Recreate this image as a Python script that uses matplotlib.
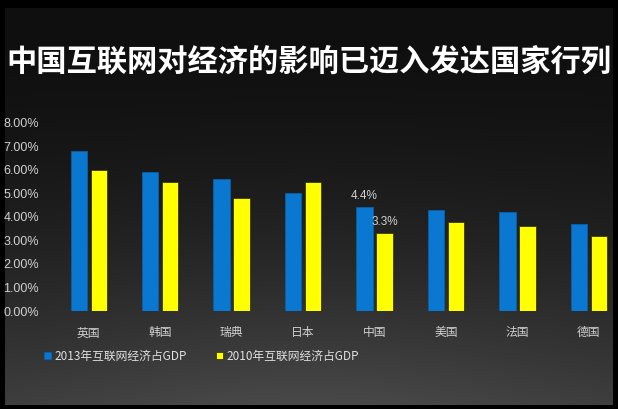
import matplotlib
matplotlib.use("Agg")
import matplotlib.pyplot as plt
import numpy as np

plt.rcParams['font.family'] = ['Noto Sans CJK SC', 'DejaVu Sans']

title = "中国互联网对经济的影响已迈入发达国家行列"
categories = ["英国", "韩国", "瑞典", "日本", "中国", "美国", "法国", "德国"]
series_2013 = [6.8, 5.9, 5.6, 5.0, 4.4, 4.3, 4.2, 3.7]
series_2010 = [6.0, 5.5, 4.8, 5.5, 3.3, 3.8, 3.6, 3.2]
label_2013 = "2013年互联网经济占GDP"
label_2010 = "2010年互联网经济占GDP"
yticks = [0, 1, 2, 3, 4, 5, 6, 7, 8]

W, H = 618, 409
fig = plt.figure(figsize=(W / 100, H / 100), dpi=100)
fig.patch.set_facecolor('black')

# background panel with gradient
bg = fig.add_axes([0, 0, 1, 1])
bg.set_xlim(0, W)
bg.set_ylim(H, 0)
bg.axis('off')
ny, nx = 200, 300
yy = np.linspace(0, 1, ny)[:, None]
xx = np.linspace(-1, 1, nx)[None, :]
val = 15 + 44 * yy ** 1.8 + 14 * np.exp(-((xx * 1.2) ** 2)) * yy ** 2
img = np.dstack([val, val, val]) / 255.0
bg.imshow(img, extent=(5, 613, 405, 8), aspect='auto', interpolation='bilinear', zorder=0)

# title
fig.text(309 / W, 1 - 62 / H, title, color='white', fontsize=21.8, fontweight='heavy',
         ha='center', va='center')

# main axes
left, right = 53, 612
bottom, top = 311, 122.7
ax = fig.add_axes([left / W, 1 - bottom / H, (right - left) / W, (bottom - top) / H])
ax.patch.set_alpha(0)
x = np.arange(len(categories))
w = 0.23
off = 0.14
ax.bar(x - off, series_2013, width=w, color='#0a78d0', edgecolor='#0860a8', linewidth=0.6,
       label=label_2013, zorder=3)
ax.bar(x + off, series_2010, width=w, color='#ffff00', edgecolor='#3a3a00', linewidth=0.6,
       label=label_2010, zorder=3)

ax.set_xlim(-0.5, (right - 89) / 71.4)
ax.set_ylim(0, 8)
ax.set_yticks(yticks)
ax.set_yticklabels([f"{v:.2f}%" for v in yticks], color='#d0d0d0', fontsize=9,
                   family=['Liberation Sans', 'DejaVu Sans'])
ax.set_xticks(x)
ax.set_xticklabels(categories, color='#d0d0d0', fontsize=8.5)
ax.tick_params(axis='y', length=0, pad=10)
ax.tick_params(axis='x', length=0, pad=11)
for s in ax.spines.values():
    s.set_visible(False)

# data labels for China
ci = categories.index("中国")
ax.text(ci - off, series_2013[ci] + 0.5, f"{series_2013[ci]:.1f}%", color='#d0d0d0',
        fontsize=8.5, ha='center', va='center', family=['Liberation Sans', 'DejaVu Sans'])
ax.text(ci + off, series_2010[ci] + 0.5, f"{series_2010[ci]:.1f}%", color='#d0d0d0',
        fontsize=8.5, ha='center', va='center', family=['Liberation Sans', 'DejaVu Sans'])

leg = fig.legend(loc='center left', bbox_to_anchor=(33 / W, 1 - 356 / H), ncol=2,
                 frameon=False, fontsize=8.5, handlelength=0.6, handleheight=0.6,
                 handletextpad=0.3, columnspacing=2.5, labelcolor='#e0e0e0')

fig.savefig('out.png', dpi=100, facecolor=fig.get_facecolor())
